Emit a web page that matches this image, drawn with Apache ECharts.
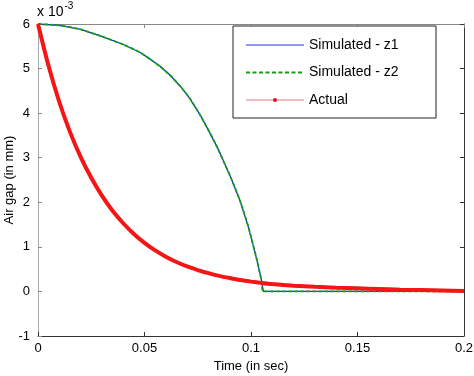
<!DOCTYPE html>
<html><head><meta charset="utf-8">
<script src="https://cdn.jsdelivr.net/npm/echarts@6/dist/echarts.min.js"></script>
<style>html,body{margin:0;padding:0;background:#fff}#c{width:474px;height:376px}</style>
</head><body><div id="c"></div>
<script>
// values in units of 1e-3 mm
var timeSim = [0, 0.01, 0.02, 0.03, 0.04, 0.048, 0.053, 0.0573, 0.062, 0.0667, 0.071, 0.0761, 0.08, 0.0839, 0.0875, 0.091, 0.0948, 0.0987, 0.1027, 0.105, 0.1058, 0.12, 0.14, 0.16, 0.18, 0.2];
var simZ1 = [6.0, 5.97, 5.88, 5.72, 5.54, 5.36, 5.2, 5.05, 4.85, 4.61, 4.35, 3.96, 3.62, 3.26, 2.88, 2.5, 2.04, 1.46, 0.72, 0.23, 0.0, 0.0, 0.0, 0.0, 0.0, 0.0];
var simZ2 = [6.0, 5.97, 5.88, 5.72, 5.54, 5.36, 5.2, 5.05, 4.85, 4.61, 4.35, 3.96, 3.62, 3.26, 2.88, 2.5, 2.04, 1.46, 0.72, 0.23, 0.0, 0.0, 0.0, 0.0, 0.0, 0.0];
var timeActual = [0, 0.005, 0.01, 0.015, 0.02, 0.025, 0.03, 0.035, 0.04, 0.045, 0.05, 0.055, 0.06, 0.065, 0.07, 0.075, 0.08, 0.085, 0.09, 0.095, 0.1, 0.105, 0.11, 0.12, 0.13, 0.14, 0.15, 0.16, 0.17, 0.18, 0.19, 0.2];
var actual = [6.0, 5.05, 4.25, 3.58, 3.02, 2.55, 2.15, 1.81, 1.53, 1.29, 1.09, 0.92, 0.78, 0.66, 0.56, 0.48, 0.41, 0.35, 0.3, 0.255, 0.22, 0.19, 0.165, 0.13, 0.105, 0.085, 0.07, 0.055, 0.04, 0.03, 0.02, 0.01];
var xTicks = [0, 0.05, 0.1, 0.15, 0.2];
var yTicks = [-1, 0, 1, 2, 3, 4, 5, 6];

function pairs(xs, ys){ return xs.map(function(x,i){ return [x, ys[i]]; }); }
var FF = 'Arial, "Liberation Sans", sans-serif';
var hidden = {color: 'rgba(0,0,0,0)', borderColor: 'rgba(0,0,0,0)', borderWidth: 0};
var chart = echarts.init(document.getElementById('c'), null, {renderer:'canvas'});
chart.setOption({
  animation: false,
  backgroundColor: '#fff',
  textStyle: {fontFamily: FF},
  grid: {left: 38, right: 10, top: 24, bottom: 40, containLabel: false, outerBoundsMode: 'none'},
  xAxis: [{
    type: 'value', min: 0, max: 0.2, interval: 0.05,
    name: 'Time (in sec)', nameLocation: 'middle', nameGap: 24, nameMoveOverlap: false,
    nameTextStyle: {fontFamily: FF, fontSize: 13, color: '#000'},
    axisLine: {show: true, onZero: false, lineStyle: {color: '#333', width: 1}},
    axisTick: {inside: true, length: 4, lineStyle: {color: '#333'}},
    axisLabel: {fontFamily: FF, fontSize: 13, color: '#000', margin: 6,
      formatter: function(v){ var i = xTicks.indexOf(+v.toFixed(3)); return i>=0 ? String(xTicks[i]) : ''; }},
    splitLine: {show: false}
  }, {
    type: 'value', min: 0, max: 0.2, interval: 0.05, position: 'top',
    axisLine: {show: true, onZero: false, lineStyle: {color: '#888', width: 1}},
    axisTick: {inside: true, length: 4, lineStyle: {color: '#888'}},
    axisLabel: {show: false}, splitLine: {show: false}
  }],
  yAxis: [{
    type: 'value', min: -1, max: 6, interval: 1,
    name: 'Air gap (in mm)', nameLocation: 'middle', nameGap: 22, nameMoveOverlap: false,
    nameTextStyle: {fontFamily: FF, fontSize: 13, color: '#000'},
    axisLine: {show: true, onZero: false, lineStyle: {color: '#aaa', width: 1}},
    axisTick: {inside: true, length: 4, lineStyle: {color: '#888'}},
    axisLabel: {fontFamily: FF, fontSize: 13, color: '#000', margin: 8,
      formatter: function(v){ return yTicks.indexOf(v) >= 0 ? String(v) : ''; }},
    splitLine: {show: false}
  }, {
    type: 'value', min: -1, max: 6, interval: 1, position: 'right',
    axisLine: {show: true, onZero: false, lineStyle: {color: '#333', width: 1}},
    axisTick: {inside: true, length: 4, lineStyle: {color: '#333'}},
    axisLabel: {show: false}, splitLine: {show: false}
  }],
  legend: {
    orient: 'vertical', left: 233, top: 26,
    padding: [11, 12, 10, 12], itemGap: 11.5,
    itemWidth: 58, itemHeight: 5,
    backgroundColor: '#fff', borderColor: '#222', borderWidth: 1,
    textStyle: {fontFamily: FF, fontSize: 14, lineHeight: 16, color: '#000', width: 115},
    data: [
      {name: 'Simulated - z1', itemStyle: hidden, lineStyle: {width: 1, color: '#2a30e0'}},
      {name: 'Simulated - z2', itemStyle: hidden, lineStyle: {width: 2, color: '#10a010', type: [4, 2.5]}},
      {name: 'Actual', lineStyle: {width: 1.2, color: '#e87a8a'}, itemStyle: {color: '#e0102a', borderWidth: 0}}
    ]
  },
  graphic: [{
    type: 'text', left: 37, top: 1,
    style: {
      text: '{a|x 10}{b|-3}',
      rich: {
        a: {fontFamily: FF, fontSize: 14, fill: '#000', padding: [8,0,0,0]},
        b: {fontFamily: FF, fontSize: 10, fill: '#000', padding: [0,0,4,1]}
      }
    }
  }],
  series: [{
    name: 'Simulated - z1', type: 'line', data: pairs(timeSim, simZ1), xAxisIndex: 0, yAxisIndex: 0,
    symbol: 'none', color: '#2030d0', lineStyle: {color: '#2030d0', width: 1.3}, z: 2
  }, {
    name: 'Simulated - z2', type: 'line', data: pairs(timeSim, simZ2), smooth: 0.2, xAxisIndex: 0, yAxisIndex: 0,
    symbol: 'none', color: '#10a010', lineStyle: {color: '#10a010', width: 1.8, type: [4, 2]}, z: 3
  }, {
    name: 'Actual', type: 'line', data: pairs(timeActual, actual), smooth: 0.3, xAxisIndex: 0, yAxisIndex: 0,
    symbol: 'circle', symbolSize: 4, showSymbol: false, color: '#f01010',
    lineStyle: {color: '#f51515', width: 4}, z: 4
  }]
});
</script></body></html>
